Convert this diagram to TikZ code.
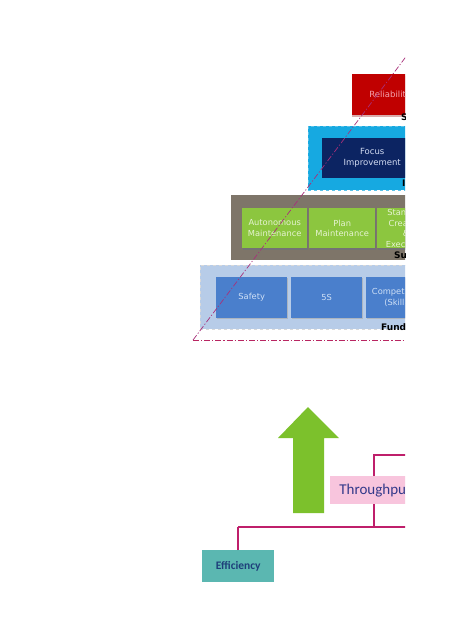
\documentclass[tikz,border=0pt]{standalone}
\usepackage{fontspec}
\setmainfont{DejaVu Sans}
\newfontfamily\calibri{Carlito}
\usetikzlibrary{shadows}
\definecolor{redbox}{HTML}{C00000}
\definecolor{redtxt}{HTML}{F4A3AE}
\definecolor{cyanbox}{HTML}{16A9E1}
\definecolor{navybox}{HTML}{0C2462}
\definecolor{navytxt}{HTML}{D3DCF2}
\definecolor{greylayer}{HTML}{7E7569}
\definecolor{greenbox}{HTML}{8CC63F}
\definecolor{greentxt}{HTML}{E6F3D2}
\definecolor{bluelayer}{HTML}{B7CCE8}
\definecolor{bluebox}{HTML}{4A7FCC}
\definecolor{bluetxt}{HTML}{CFE0F6}
\definecolor{diagline}{HTML}{A8307A}
\definecolor{arrowgreen}{HTML}{7CC12C}
\definecolor{pinkbox}{HTML}{F8C5DD}
\definecolor{throughtxt}{HTML}{33398A}
\definecolor{magline}{HTML}{BF1F6B}
\definecolor{tealbox}{HTML}{5BB7B1}
\definecolor{efftxt}{HTML}{1E3F7A}
\tikzset{
  box/.style={draw=none, inner sep=0pt, anchor=north west, align=center},
  layer/.style={box, draw=white!85!black, dashed, line width=0.6pt},
  greenitem/.style={box, fill=greenbox, text=greentxt, font=\fontsize{8.3}{10.5}\selectfont,
     drop shadow={shadow xshift=1.2pt, shadow yshift=-1.4pt, fill=black!55, opacity=1}},
  blueitem/.style={box, fill=bluebox, text=bluetxt, font=\fontsize{8.3}{10.5}\selectfont,
     drop shadow={shadow xshift=1pt, shadow yshift=-1pt, fill=black!35, opacity=0.6}},
  tag/.style={anchor=west, inner sep=0pt, font=\fontsize{9}{10}\selectfont\bfseries, text=black},
  conn/.style={draw=magline, line width=1.8pt},
  guide/.style={draw=diagline, line width=0.7pt, dash pattern=on 6pt off 2pt on 1.2pt off 2pt}
}
\begin{document}
\begin{tikzpicture}[x=1pt,y=-1pt]
\useasboundingbox[fill=white] (0,0) rectangle (474,632);
\begin{scope}
\clip (0,0) rectangle (405,632);
% fundamental layer
\node[layer, fill=bluelayer, minimum width=270pt, minimum height=64pt] (fundlayer) at (200,265) {};
\node[blueitem, minimum width=71pt, minimum height=41pt] (safety) at (216,277) {Safety};
\node[blueitem, minimum width=71pt, minimum height=41pt] (fives) at (291,277) {5S};
\node[blueitem, minimum width=64pt, minimum height=41pt] (comp) at (366,277) {Competency\\(Skills)};
\node[tag] (fundtag) at (381,327) {Fundamental};
% support layer
\node[box, fill=greylayer, minimum width=240pt, minimum height=65pt] (suplayer) at (231,195) {};
\node[greenitem, minimum width=65pt, minimum height=40pt] (am) at (242,208) {Autonomous\\Maintenance};
\node[greenitem, minimum width=66pt, minimum height=40pt] (pm) at (309,208) {Plan\\Maintenance};
\node[greenitem, minimum width=58pt, minimum height=40pt] (std) at (377,208) {Standard\\Creation\\\&\\Execution};
\node[tag] (suptag) at (394,256) {Support};
% improvement layer
\node[layer, fill=cyanbox, draw=cyanbox!70!white, minimum width=160pt, minimum height=64pt] (implayer) at (308,126) {};
\node[box, fill=navybox, text=navytxt, font=\fontsize{8.5}{11}\selectfont, minimum width=100pt, minimum height=40pt] (focus) at (322,138) {Focus\\Improvement};
\node[tag] (imptag) at (402,184) {Improvement};
% strategic layer
\node[box, fill=redbox, text=redtxt, font=\fontsize{8.5}{11}\selectfont, minimum width=76pt, minimum height=41pt,
   drop shadow={shadow xshift=0pt, shadow yshift=-1.5pt, fill=pink!70!gray, opacity=1}] (rel) at (352,74) {Reliability};
\node[tag] (strtag) at (401,118) {Strategic};
% guide lines
\coordinate (g0) at (193,340);
\coordinate (g1) at (420,38);
\coordinate (g2) at (420,340);
\draw[guide] (g0) -- (g1);
\draw[guide, draw=diagline!80!red] (g0) -- (g2);
% arrow
\fill[arrowgreen] (308,407) -- (339,438) -- (324,438) -- (324,513) -- (293,513) -- (293,438) -- (278,438) -- cycle;
% bottom tree
\node[box, fill=pinkbox, text=throughtxt, font=\calibri\fontsize{15}{17}\selectfont, minimum width=90pt, minimum height=28pt] (thru) at (330,476) {Throughput};
\node[box, fill=tealbox, text=efftxt, font=\calibri\fontsize{11.5}{13}\selectfont\bfseries, minimum width=72pt, minimum height=32pt, text depth=1pt] (eff) at (202,550) {Efficiency};
\coordinate (topj) at (374,455);
\coordinate (topr) at (430,455);
\coordinate (botj) at (374,527);
\coordinate (botl) at (238,527);
\coordinate (botr) at (430,527);
\draw[conn] (thru.north -| topj) -- (topj) -- (topr);
\draw[conn] (thru.south -| botj) -- (botj);
\draw[conn] (botl) -- (botr);
\draw[conn] (eff.north -| botl) -- (botl);
\end{scope}
\end{tikzpicture}
\end{document}
